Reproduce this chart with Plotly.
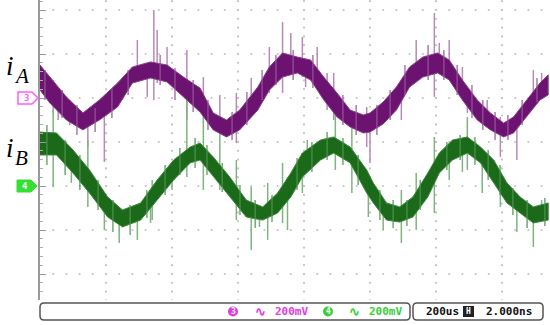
import numpy as np
import plotly.graph_objects as go

W, H = 550, 325

# time in us (200 us/div), amplitude in mV (200 mV/div), relative to each channel's ground marker
ia_t = [0, 30, 80, 130, 180, 235, 280, 335, 385, 435, 485, 525, 565, 605, 660, 695, 735, 780, 820,
        860, 900, 940, 980, 1000, 1040, 1080, 1120, 1160, 1205, 1240, 1280, 1325, 1365, 1405, 1435,
        1475, 1515, 1540]
ia_hi = [150, 95, 5, -68, -9, 68, 141, 164, 150, 95, 45, -68, -100, -55, 50, 141, 205, 186, 173,
         95, 23, -55, -77, -68, -18, 50, 141, 186, 205, 173, 82, -9, -68, -114, -86, -9, 68, 105]
ia_lo = [36, -23, -100, -145, -100, -41, 68, 91, 73, 5, -64, -145, -177, -145, -55, 36, 95, 114, 82,
         -9, -86, -132, -159, -155, -118, -55, 50, 95, 114, 82, -9, -100, -145, -177, -159, -86, -9, 14]

ib_t = [0, 50, 100, 150, 205, 250, 305, 355, 405, 455, 485, 525, 575, 625, 675, 720, 760, 795, 850,
        890, 940, 990, 1010, 1050, 1090, 1130, 1175, 1210, 1250, 1295, 1335, 1375, 1415, 1455, 1495, 1540]
ib_hi = [245, 241, 164, 73, -50, -109, -77, 27, 118, 177, 195, 132, 41, -64, -95, -32, 59, 150, 209,
         223, 177, 73, 14, -77, -95, -50, 59, 150, 209, 223, 177, 118, 14, -50, -95, -77]
ib_lo = [141, 141, 59, -32, -141, -186, -155, -64, 27, 105, 118, 41, -50, -141, -155, -123, -50, 41, 118,
         150, 105, -32, -77, -155, -164, -141, -50, 59, 118, 150, 105, 14, -77, -123, -168, -155]

# long noise spikes (time, top, bottom)
ia_sp_t = [40, 55, 90, 145, 195, 250, 295, 325, 345, 355, 385, 445, 495, 545, 595, 640, 695, 735, 760,
           795, 805, 840, 870, 890, 990, 1000, 1095, 1140, 1195, 1210, 1240, 1280, 1295, 1355, 1395,
           1445, 1495, 1520]
ia_sp_hi = [82, -9, -9, -100, -77, 59, 264, 159, 400, 309, 232, 218, 95, 14, 23, 91, 232, 345, 295,
            277, 173, 232, 114, 114, -41, -159, 23, 264, 386, 250, 264, 141, 36, -9, -86, -132, 127, 114]
ia_sp_lo = [-68, -100, -123, -223, -291, -9, 114, 5, -9, 68, 141, -100, -68, -114, -205, -55, 23, 23, 141,
            95, 50, 82, -55, -100, -223, -295, -100, 141, 5, 141, 141, 5, -68, -132, -268, -282, 23, 14]

ib_sp_t = [40, 95, 145, 195, 240, 295, 335, 340, 400, 445, 495, 545, 595, 640, 665, 690, 735, 750, 795,
           810, 895, 945, 995, 1040, 1095, 1140, 1195, 1240, 1280, 1295, 1340, 1395, 1445, 1495, 1520]
ib_sp_hi = [345, 86, 209, -50, -95, -123, -18, 27, 105, 405, 359, 268, 118, -5, -95, 14, 105, 41, 150,
            209, 345, 300, -32, -95, -18, 59, 223, 177, 177, 314, 105, 27, -32, -95, -64]
ib_sp_lo = [-5, 14, -95, -200, -259, -245, -168, -155, -18, 41, -18, -18, -155, -291, -186, -245, -168, -200, -32,
            73, 73, -32, -141, -200, -259, -200, -123, 27, 64, 73, -32, -95, -209, -277, -155]

# short ripple strokes across the band
ia_fz_t = [15, 67, 112, 167, 218, 267, 364, 409, 464, 509, 582, 627, 673, 715, 767, 827, 918, 958, 1021,
           1061, 1106, 1176, 1224, 1264, 1309, 1342, 1379, 1418, 1461, 1506]
ia_fz_hi = [127, 36, -32, -45, 45, 127, 195, 136, 82, -9, -64, 27, 127, 195, 218, 195, 14, -32, -32,
            36, 150, 241, 218, 150, 59, -9, -64, -77, -9, 91]
ia_fz_lo = [-9, -91, -168, -155, -91, 14, 59, -9, -64, -145, -191, -123, -9, 59, 82, 45, -123, -168, -168,
            -100, 14, 82, 82, 14, -91, -145, -191, -191, -123, -18]

ib_fz_t = [21, 76, 121, 176, 221, 273, 324, 379, 424, 470, 506, 552, 606, 652, 703, 779, 824, 870, 918,
           964, 1030, 1070, 1112, 1152, 1233, 1273, 1318, 1358, 1394, 1433, 1476, 1530]
ib_fz_hi = [277, 209, 141, 27, -64, -86, -18, 95, 173, 218, 186, 105, 5, -64, -41, 127, 200, 245, 218,
            141, -18, -64, -64, 27, 200, 232, 223, 164, 95, -9, -64, -55]
ib_fz_lo = [95, 50, -18, -109, -209, -223, -145, -41, 50, 82, 50, -27, -132, -191, -164, -18, 64, 118, 95,
            5, -155, -191, -182, -109, 73, 118, 95, 27, -41, -132, -191, -182]

CH3_OFF = 200   # ground marker of channel 3 on screen (mV)
CH4_OFF = -200  # ground marker of channel 4

X_MAX = 1545.45
Y_MIN, Y_MAX = -718.18, 645.45

PURPLE = '#6c1270'
PURPLE_EDGE = '#874088'
PURPLE_MID = '#95569a'
PURPLE_SPIKE = '#b58ab8'
GREEN = '#1a6a1a'
GREEN_EDGE = '#3f863f'
GREEN_MID = '#4f924f'
GREEN_SPIKE = '#7fb47f'


def px(x):
    return x / W


def py(y):
    return 1 - y / H


def band(t, hi, lo, off, fill, edge):
    xs = list(t) + list(t[::-1])
    ys = [v + off for v in hi] + [v + off for v in lo[::-1]]
    return go.Scatter(x=xs, y=ys, mode='lines', fill='toself', fillcolor=fill,
                      line=dict(color=edge, width=1), hoverinfo='skip')


def spikes(t, hi, lo, off, color, width=1.5):
    xs, ys = [], []
    for a, b, c in zip(t, hi, lo):
        xs += [a, a, None]
        ys += [b + off, c + off, None]
    return go.Scatter(x=xs, y=ys, mode='lines', line=dict(color=color, width=width), hoverinfo='skip')


def note(x, y, text, size, color, family='DejaVu Sans Mono'):
    fig.add_annotation(x=px(x), y=py(y), xref='paper', yref='paper', text=text, showarrow=False,
                       xanchor='center', yanchor='middle',
                       font=dict(family=family, size=size, color=color))


fig = go.Figure()

# dotted graticule
gx, gy = [], []
for yv in np.arange(-600, 601, 200):
    for xv in np.arange(40, X_MAX, 40):
        gx.append(xv)
        gy.append(yv)
for xv in np.arange(200, X_MAX, 200):
    for yv in np.arange(-720, Y_MAX, 40):
        gx.append(xv)
        gy.append(yv)
fig.add_trace(go.Scatter(x=gx, y=gy, mode='markers', hoverinfo='skip',
                         marker=dict(size=2.2, color='#c4c4c4', line_width=0)))

fig.add_trace(spikes(ia_sp_t, ia_sp_hi, ia_sp_lo, CH3_OFF, PURPLE_SPIKE))
fig.add_trace(spikes(ib_sp_t, ib_sp_hi, ib_sp_lo, CH4_OFF, GREEN_SPIKE))
fig.add_trace(band(ia_t, ia_hi, ia_lo, CH3_OFF, PURPLE, PURPLE_EDGE))
fig.add_trace(band(ib_t, ib_hi, ib_lo, CH4_OFF, GREEN, GREEN_EDGE))
fig.add_trace(spikes(ia_fz_t, ia_fz_hi, ia_fz_lo, CH3_OFF, PURPLE_MID, 1.2))
fig.add_trace(spikes(ib_fz_t, ib_fz_hi, ib_fz_lo, CH4_OFF, GREEN_MID, 1.2))

# channel ground markers
fig.add_shape(type='path', xref='paper', yref='paper',
              path=f'M {px(18)},{py(92)} L {px(32)},{py(92)} L {px(38)},{py(98)} '
                   f'L {px(32)},{py(104)} L {px(18)},{py(104)} Z',
              line=dict(color='#ff5cff', width=1.5), fillcolor='white')
note(26, 98, '<b>3</b>', 9, '#ff5cff')
fig.add_shape(type='path', xref='paper', yref='paper',
              path=f'M {px(17)},{py(180)} L {px(31)},{py(180)} L {px(37)},{py(186)} '
                   f'L {px(31)},{py(192)} L {px(17)},{py(192)} Z',
              line=dict(color='#33e033', width=1), fillcolor='#33e033')
note(25, 186, '<b>4</b>', 9, 'white')

# signal labels
for txt, x, y, size in [('i', 10, 66, 27), ('A', 21, 76, 21), ('i', 10, 148, 27), ('B', 21, 158, 21)]:
    note(x, y, f'<i>{txt}</i>', size, 'black', 'Liberation Serif')


# status bar
def rbox(x0, x1, y0, y1, r=4):
    return (f'M {px(x0 + r)},{py(y0)} L {px(x1 - r)},{py(y0)} Q {px(x1)},{py(y0)} {px(x1)},{py(y0 + r)} '
            f'L {px(x1)},{py(y1 - r)} Q {px(x1)},{py(y1)} {px(x1 - r)},{py(y1)} '
            f'L {px(x0 + r)},{py(y1)} Q {px(x0)},{py(y1)} {px(x0)},{py(y1 - r)} '
            f'L {px(x0)},{py(y0 + r)} Q {px(x0)},{py(y0)} {px(x0 + r)},{py(y0)} Z')


fig.add_shape(type='path', xref='paper', yref='paper', path=rbox(40, 410, 303, 320),
              line=dict(color='#555555', width=1.5))
fig.add_shape(type='path', xref='paper', yref='paper', path=rbox(413, 543, 303, 320),
              line=dict(color='#555555', width=1.5))

MAG = '#e33be3'
LGRN = '#38d038'
fig.add_shape(type='circle', xref='paper', yref='paper', x0=px(228), x1=px(238), y0=py(306.5), y1=py(316.5),
              line_width=0, fillcolor=MAG)
fig.add_shape(type='circle', xref='paper', yref='paper', x0=px(323), x1=px(333), y0=py(306.5), y1=py(316.5),
              line_width=0, fillcolor=LGRN)
fig.add_shape(type='rect', xref='paper', yref='paper', x0=px(463), x1=px(474), y0=py(306), y1=py(317),
              line_width=0, fillcolor='#222222')

status = [
    ('3', 233, 'white', 8),
    ('∿', 260, MAG, 13),
    ('200mV', 291, MAG, 11),
    ('4', 328, 'white', 8),
    ('∿', 354, LGRN, 13),
    ('200mV', 385, LGRN, 11),
    ('200us', 442, '#111111', 11),
    ('H', 468.5, 'white', 8),
    ('2.000ns', 509, '#111111', 11),
]
for txt, x, col, size in status:
    note(x, 311.5, f'<b>{txt}</b>', size, col)

fig.update_layout(
    width=W, height=H,
    margin=dict(l=0, r=0, t=0, b=0),
    paper_bgcolor='white', plot_bgcolor='white',
    showlegend=False,
    xaxis=dict(domain=[40 / W, 1], range=[0, X_MAX], showgrid=False, zeroline=False,
               showticklabels=False, ticks=''),
    yaxis=dict(domain=[25 / H, 1], range=[Y_MIN, Y_MAX], showgrid=False, zeroline=False,
               showticklabels=False, showline=True, linecolor='#9a9a9a', linewidth=2,
               ticks='inside', tick0=0, dtick=200, ticklen=6, tickcolor='#9a9a9a', tickwidth=1,
               minor=dict(dtick=40, ticks='inside', ticklen=3, tickcolor='#b0b0b0')),
)

fig.write_html("out.html", config={'displayModeBar': False},
               post_script="document.body.style.margin='0';document.body.style.overflow='hidden';")
